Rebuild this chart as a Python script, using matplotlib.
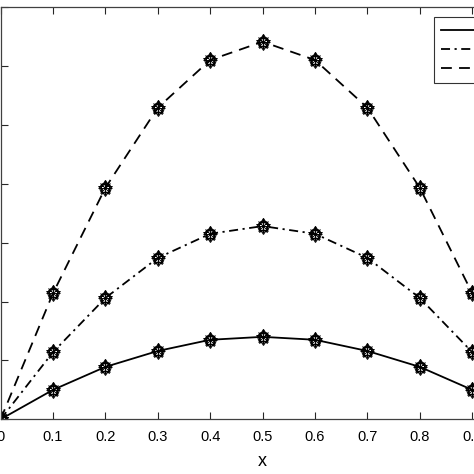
import matplotlib
matplotlib.use("Agg")
import matplotlib.pyplot as plt

plt.rcParams['font.family'] = ['Liberation Sans', 'DejaVu Sans']

x = [0.0, 0.1, 0.2, 0.3, 0.4, 0.5, 0.6, 0.7, 0.8, 0.9, 1.0]
y_solid = [0.0, 0.50, 0.89, 1.16, 1.35, 1.40, 1.35, 1.16, 0.89, 0.50, 0.0]
y_dashdot = [0.0, 1.14, 2.06, 2.74, 3.15, 3.28, 3.15, 2.74, 2.06, 1.14, 0.0]
y_dashed = [0.0, 2.14, 3.93, 5.29, 6.10, 6.41, 6.10, 5.29, 3.93, 2.14, 0.0]
labels = ['Case 1', 'Case 2', 'Case 3']
xticks = [0, 0.1, 0.2, 0.3, 0.4, 0.5, 0.6, 0.7, 0.8, 0.9, 1]
xticklabels = ['0', '0.1', '0.2', '0.3', '0.4', '0.5', '0.6', '0.7', '0.8', '0.9', '1']
yticks = [0, 1, 2, 3, 4, 5, 6, 7]

fig = plt.figure(figsize=(4.74, 4.74), dpi=100)
ax = fig.add_axes([0.6 / 474, 54.7 / 474, 524 / 474, 412.3 / 474])

series = [(y_solid, '-', None), (y_dashdot, '-.', (5, 2.5, 1.2, 2.5)), (y_dashed, '--', (6, 4))]
handles = []
for (ys, ls, dash), lab in zip(series, labels):
    h, = ax.plot(x, ys, linestyle=ls, color='black', linewidth=1.3, label=lab)
    if dash is not None:
        h.set_dashes(dash)
    handles.append(h)
    for m, ms in [('o', 8), ('*', 11), ('+', 10), ('x', 7.5), ('d', 8), ('s', 5.5)]:
        ax.plot(x, ys, linestyle='none', marker=m, markersize=ms,
                markerfacecolor='none', markeredgecolor='black', markeredgewidth=0.7)

ax.set_xlim(0, 1)
ax.set_ylim(0, 7)
ax.set_xticks(xticks)
ax.set_xticklabels(xticklabels)
ax.set_yticks(yticks)
ax.tick_params(direction='in', length=5, width=0.8, top=True, right=True,
               labelsize=10.5, colors='#262626', pad=8)
for tl in ax.get_xticklabels():
    tl.set_color('black')
for sp in ax.spines.values():
    sp.set_color('#404040')
    sp.set_linewidth(0.9)
ax.set_xlabel('x', fontsize=13, labelpad=6)

leg = ax.legend(handles=handles, loc='upper left',
                bbox_to_anchor=(434 / 474, 1 - 17 / 474),
                bbox_transform=fig.transFigure, frameon=True, fancybox=False,
                edgecolor='black', fontsize=10, handlelength=3.0,
                borderaxespad=0, labelspacing=0.35, borderpad=0.5)
leg.get_frame().set_linewidth(0.8)

fig.savefig('out.png', dpi=100)
